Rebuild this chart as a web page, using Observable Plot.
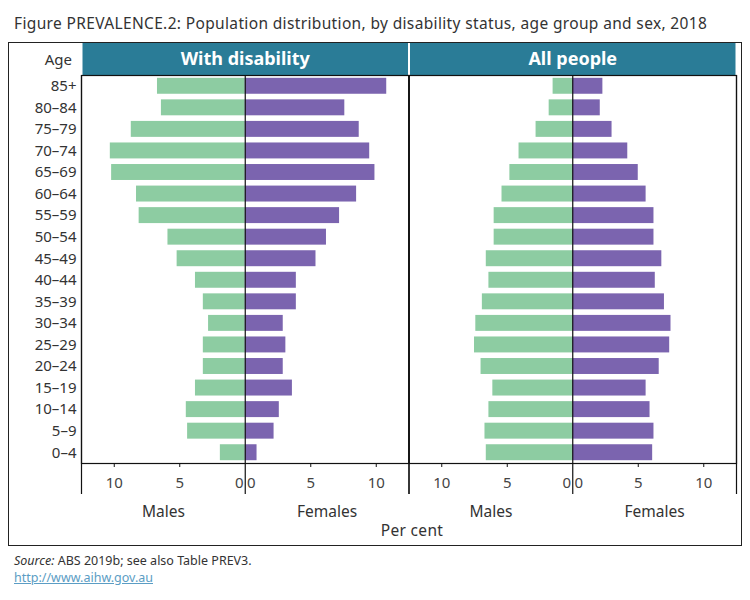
<!DOCTYPE html>
<html><head><meta charset="utf-8">
<script src="https://cdn.jsdelivr.net/npm/d3@7"></script>
<script src="https://cdn.jsdelivr.net/npm/@observablehq/plot@0.6"></script>
<style>
body{margin:0;background:#fff;font-family:"Noto Sans",sans-serif;color:#333}
#wrap{position:relative;width:750px;height:600px;overflow:hidden}
#title{position:absolute;left:14px;top:12px;font-size:15.5px;letter-spacing:0.35px;white-space:nowrap;color:#333}
#box{position:absolute;left:8px;top:42px;width:734px;height:504px;border:1.5px solid #222;box-sizing:border-box;pointer-events:none}
#chart{position:absolute;left:0;top:42px}
#age{position:absolute;left:0;width:72px;text-align:right;top:49px;font-size:15px;color:#333}
#percent{position:absolute;left:412px;top:519px;transform:translateX(-50%);font-size:15.5px;letter-spacing:0.3px;color:#333;white-space:nowrap}
#source{position:absolute;left:14px;top:552px;font-size:12.5px;color:#333}
#link{position:absolute;left:14px;top:569px;font-size:12.5px;color:#5b9dc4;text-decoration:underline}
</style>
</head><body>
<div id="wrap">
  <div id="title">Figure PREVALENCE.2: Population distribution, by disability status, age group and sex, 2018</div>
  <div id="chart"></div>
  <div id="age">Age</div>
  <div id="percent">Per cent</div>
  <div id="box"></div>
  <div id="source"><i>Source:</i> ABS 2019b; see also Table PREV3.</div>
  <div id="link">http://www.aihw.gov.au</div>
</div>
<script>
const panels = ["With disability", "All people"];
const sexes = ["Males", "Females"];
const ages = ["85+","80–84","75–79","70–74","65–69","60–64","55–59","50–54","45–49","40–44","35–39","30–34","25–29","20–24","15–19","10–14","5–9","0–4"];
const disabilityMales   = [6.7,6.4,8.7,10.3,10.2,8.3,8.1,5.9,5.2,3.8,3.2,2.8,3.2,3.2,3.8,4.5,4.4,1.9];
const disabilityFemales = [10.8,7.6,8.7,9.5,9.9,8.5,7.2,6.2,5.4,3.9,3.9,2.9,3.1,2.9,3.6,2.6,2.2,0.9];
const allMales   = [1.5,1.8,2.8,4.1,4.8,5.4,6.0,6.0,6.6,6.4,6.9,7.4,7.5,7.0,6.1,6.4,6.7,6.6];
const allFemales = [2.3,2.1,3.0,4.2,5.0,5.6,6.2,6.2,6.8,6.3,7.0,7.5,7.4,6.6,5.6,5.9,6.2,6.1];
const xTicks = [-10, -5, 5, 10];

const series = [
  {panel: panels[0], sex: "Males", values: disabilityMales},
  {panel: panels[0], sex: "Females", values: disabilityFemales},
  {panel: panels[1], sex: "Males", values: allMales},
  {panel: panels[1], sex: "Females", values: allFemales}
];
const rows = series.flatMap(s => s.values.map((v, i) => ({panel: s.panel, sex: s.sex, age: ages[i], value: v})));

const W = 750, H = 504, mT = 33, mB = 83, mL = 81, mR = 14;
const green = "#8dcca2", purple = "#7b64af", teal = "#2a7c97";
const font = "'Noto Sans', sans-serif";

const chart = Plot.plot({
  width: W, height: H,
  marginTop: mT, marginBottom: mB, marginLeft: mL, marginRight: mR,
  style: {fontFamily: font, fontSize: "15px", color: "#333", background: "transparent", overflow: "visible"},
  fx: {domain: panels, padding: 0, round: false, axis: null},
  x: {domain: [-12.5, 12.5], axis: null},
  y: {domain: ages, paddingInner: 0.26, paddingOuter: 0.13, round: false, axis: null},
  color: {domain: sexes, range: [green, purple]},
  marks: [
    Plot.frame({fill: teal, stroke: "none", insetTop: -mT, insetBottom: H - mT - mB, insetLeft: 1, insetRight: 1}),
    Plot.text(panels, {fx: d => d, text: d => d, frameAnchor: "top", dy: -mT / 2, lineAnchor: "middle", fill: "white", fontWeight: "bold", fontSize: 18}),
    Plot.barX(rows, {fx: "panel", y: "age", x1: 0, x2: d => d.sex === "Males" ? -d.value : d.value, fill: "sex"}),
    Plot.frame({stroke: "#111", strokeWidth: 1.2}),
    Plot.ruleX([-12.5, 0, 12.5], {stroke: "#111", strokeWidth: 1.2, insetBottom: -31}),
    Plot.axisX({ticks: xTicks, tickFormat: d => Math.abs(d), tickSize: 4, tickPadding: 10, fontSize: 15, label: null, fill: "#444", stroke: "#111"}),
    Plot.axisX({ticks: [0], tickFormat: () => "0", tickSize: 0, tickPadding: 14, dx: -6, fontSize: 15, label: null, fill: "#444"}),
    Plot.axisX({ticks: [0], tickFormat: () => "0", tickSize: 0, tickPadding: 14, dx: 6, fontSize: 15, label: null, fill: "#444"}),
    Plot.text(sexes, {x: d => d === "Males" ? -6.25 : 6.25, text: d => d, frameAnchor: "bottom", dy: 49, lineAnchor: "middle", fontSize: 15.5, fill: "#333"}),
    Plot.axisY({tickSize: 0, tickPadding: 5, fontSize: 15, label: null, fill: "#333"})
  ]
});
document.getElementById("chart").appendChild(chart);
</script>
</body></html>
